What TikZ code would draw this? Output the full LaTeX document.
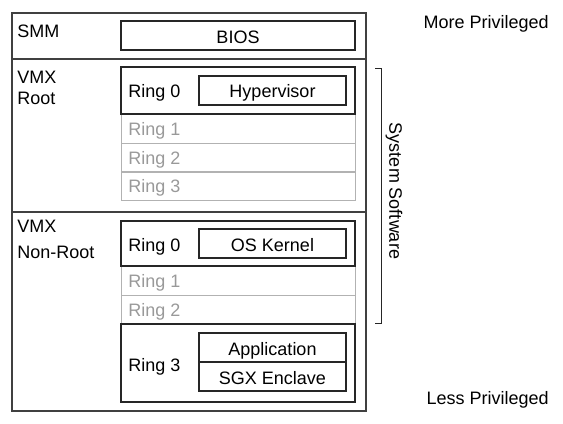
\documentclass[tikz,border=0pt]{standalone}
\usepackage{fontspec}
\setmainfont{Liberation Sans}
\usetikzlibrary{positioning}
\tikzset{
	frame/.style={draw=black!75, line width=1.1pt},
	box/.style={draw=black!85, line width=0.8pt},
	faint/.style={draw=black!30, line width=0.7pt},
	lbl/.style={font=\fontsize{12.8}{15}\selectfont, inner sep=0pt, anchor=base},
	dim/.style={lbl, text=black!40, anchor=base west},
}
\begin{document}
\begin{tikzpicture}[x=0.025cm, y=-0.025cm]
	\useasboundingbox (0,0) rectangle (563,423);
	
	%CORNICE
	\draw[frame] (12,13) rectangle (366,411);
	\draw[frame] (12,59) -- (366,59);
	\draw[frame] (12,212) -- (366,212);
	
	%SMM
	\node[lbl, anchor=base west] (smm) at (17,37) {SMM};
	\draw[box] (121,21) rectangle (355,50);
	\node[lbl] (bios) at (238,43) {BIOS};
	
	%VMX ROOT
	\node[lbl, anchor=base west] (vmxr) at (17,83) {VMX};
	\node[lbl, anchor=base west] (root) at (17,104) {Root};
	\foreach \n/\t in {1/114,2/143,3/171}
	\draw[faint] (121,\t) rectangle (355,\t+29) node[dim] (rr\n) at (128,\t+21) {Ring \n};
	\draw[box] (121,67) rectangle (355,114);
	\node[lbl, anchor=base west] (rr0) at (128,97) {Ring 0};
	\draw[box] (199,76) rectangle (346,105);
	\node[lbl] (hyp) at (272.5,97) {Hypervisor};
	
	%VMX NON-ROOT
	\node[lbl, anchor=base west] (vmxn) at (17,232) {VMX};
	\node[lbl, anchor=base west] (nonroot) at (17,258) {Non-Root};
	\foreach \n/\t in {1/266,2/295}
	\draw[faint] (121,\t) rectangle (355,\t+29) node[dim] (nr\n) at (128,\t+21) {Ring \n};
	\draw[box] (121,221) rectangle (355,266);
	\node[lbl, anchor=base west] (nr0) at (128,251) {Ring 0};
	\draw[box] (199,229) rectangle (346,258);
	\node[lbl] (kernel) at (272.5,251) {OS Kernel};
	\draw[box] (121,324) rectangle (355,402);
	\node[lbl, anchor=base west] (nr3) at (128,371) {Ring 3};
	\draw[box] (199,333) rectangle (346,362);
	\node[lbl] (app) at (272.5,355) {Application};
	\draw[box] (199,362) rectangle (346,391);
	\node[lbl] (sgx) at (272.5,384) {SGX Enclave};
	
	%PARENTESI
	\draw[black!85, line width=0.6pt] (375,68) -- (381,68) -- (381,323) -- (375,323);
	\node[lbl, anchor=center, rotate=-90] (syssw) at (394,191) {System Software};
	
	%PRIVILEGI
	\node[lbl, anchor=base east] (more) at (549,28) {More Privileged};
	\node[lbl, anchor=base east] (less) at (549,404) {Less Privileged};
	
\end{tikzpicture}
\end{document}
